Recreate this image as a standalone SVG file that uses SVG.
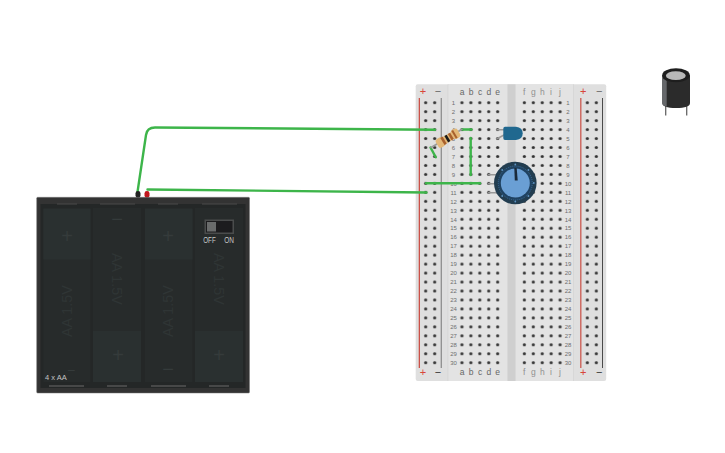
<svg xmlns="http://www.w3.org/2000/svg" width="725" height="453" viewBox="0 0 725 453">
<style>
.hd{fill:#333}
.num{font:6px "Liberation Sans",Arial,sans-serif;fill:#6e6e6e;text-anchor:middle}
.col{font:8.5px "Liberation Sans",Arial,sans-serif;fill:#666;text-anchor:middle}
.colf{font:8.5px "Liberation Sans",Arial,sans-serif;fill:#909090;text-anchor:middle}
.sign{font:11px "Liberation Sans",Arial,sans-serif;text-anchor:middle}
.w{fill:none;stroke:#3db54a;stroke-width:2.4;stroke-linecap:round;stroke-linejoin:round}
.cell{fill:#272b2b}
.pane{fill:#2a3030}
.aa{font:14.3px "Liberation Sans",Arial,sans-serif;fill:#2f3535;text-anchor:start}
.mark{font:20px "Liberation Sans",Arial,sans-serif;fill:#353b3b;text-anchor:middle}
.leg{fill:none;stroke:#999;stroke-width:1.6;stroke-linecap:round}
.sw{font:8.2px "Liberation Sans",Arial,sans-serif;fill:#c8c8c8;text-anchor:middle}
</style>
<defs>
<pattern id="holes" x="0" y="0" width="8.93" height="8.966" patternUnits="userSpaceOnUse" patternTransform="translate(457.5 98.2)">
<circle cx="4.46" cy="4.48" r="1.6" class="hd"/>
</pattern>
<pattern id="holesR" x="0" y="0" width="8.93" height="8.966" patternUnits="userSpaceOnUse" patternTransform="translate(519.9 98.2)">
<circle cx="4.46" cy="4.48" r="1.6" class="hd"/>
</pattern>
<pattern id="holesL" x="0" y="0" width="9" height="8.966" patternUnits="userSpaceOnUse" patternTransform="translate(421.2 98.2)">
<circle cx="4.5" cy="4.48" r="1.6" class="hd"/>
</pattern>
<pattern id="holesS" x="0" y="0" width="9" height="8.966" patternUnits="userSpaceOnUse" patternTransform="translate(582.8 98.2)">
<circle cx="4.5" cy="4.48" r="1.6" class="hd"/>
</pattern>
<g id="nums" class="num">
<text y="104.9">1</text><text y="113.9">2</text><text y="122.8">3</text><text y="131.8">4</text><text y="140.8">5</text><text y="149.7">6</text><text y="158.7">7</text><text y="167.7">8</text><text y="176.6">9</text><text y="185.6">10</text><text y="194.6">11</text><text y="203.5">12</text><text y="212.5">13</text><text y="221.5">14</text><text y="230.4">15</text><text y="239.4">16</text><text y="248.4">17</text><text y="257.3">18</text><text y="266.3">19</text><text y="275.3">20</text><text y="284.2">21</text><text y="293.2">22</text><text y="302.2">23</text><text y="311.1">24</text><text y="320.1">25</text><text y="329.1">26</text><text y="338">27</text><text y="347">28</text><text y="356">29</text><text y="364.9">30</text>
</g>
</defs>
<rect width="725" height="453" fill="#fff"/>

<g id="breadboard">
<rect x="415.700" y="84.300" width="190.500" height="296.700" rx="2" fill="#dfdfdf"/>
<rect x="448" y="84.300" width="59.500" height="296.700" fill="#e3e3e3"/>
<rect x="515.500" y="84.300" width="58" height="296.700" fill="#e3e3e3"/>
<rect x="507.500" y="84.300" width="8" height="296.700" fill="#cfcfcf"/>
<path d="M448 84.300V381M573.500 84.300V381" stroke="#d2d2d2" stroke-width="0.700"/>
<rect x="457.500" y="98.200" width="44.650" height="269" fill="url(#holes)"/>
<rect x="519.900" y="98.200" width="44.650" height="269" fill="url(#holesR)"/>
<rect x="421.200" y="98.200" width="18" height="269" fill="url(#holesL)"/>
<rect x="582.800" y="98.200" width="18" height="269" fill="url(#holesS)"/>
<path d="M419.300 98V368" stroke="#c8392f" stroke-width="1.100"/>
<path d="M441.300 98V368" stroke="#8e8e8e" stroke-width="1.300"/>
<path d="M580.800 98V368" stroke="#cc5a50" stroke-width="1.300"/>
<path d="M602.500 98V368" stroke="#4a4a4a" stroke-width="1"/>
<g class="sign">
<text x="423" y="95" fill="#d8453a">+</text><text x="438" y="95" fill="#666">−</text>
<text x="583.300" y="95" fill="#d8453a">+</text><text x="599.300" y="95" fill="#666">−</text>
<text x="423" y="376" fill="#d8453a">+</text><text x="438" y="376" fill="#333">−</text>
<text x="583.300" y="376" fill="#d8453a">+</text><text x="599.300" y="376" fill="#333">−</text>
</g>
<g class="col">
<text x="462" y="95">a</text><text x="471" y="95">b</text><text x="480" y="95">c</text><text x="488.800" y="95">d</text><text x="497.500" y="95">e</text>
<text x="462" y="375">a</text><text x="471" y="375">b</text><text x="480" y="375">c</text><text x="488.800" y="375">d</text><text x="497.500" y="375">e</text>
</g>
<g class="colf">
<text x="524.300" y="95">f</text><text x="533.300" y="95">g</text><text x="542.300" y="95">h</text><text x="551" y="95">i</text><text x="560" y="95">j</text>
<text x="524.300" y="375">f</text><text x="533.300" y="375">g</text><text x="542.300" y="375">h</text><text x="551" y="375">i</text><text x="560" y="375">j</text>
</g>
<use href="#nums" x="453.500"/>
<use href="#nums" x="568"/>
</g>

<g id="connectors">
<path class="w" d="M137.500 192L146 135Q147 127.500 155 127.500L435 129.700"/>
<path class="w" d="M147.500 189.500L426.500 192.500"/>
<path class="w" d="M430.500 147.500L435.800 157.300"/>
<path class="w" d="M462 129.500H471.500"/>
<path class="w" d="M470.700 138V175"/>
<path class="w" d="M426 183.300H480"/>
</g>

<g id="battery">
<rect x="135.500" y="191" width="5" height="7" rx="2.400" fill="#222"/>
<rect x="144.500" y="191" width="5" height="7" rx="2.400" fill="#c1171d"/>
<rect x="36.700" y="197.300" width="212.800" height="195.700" rx="1" fill="#333" stroke="#777" stroke-width="0.500"/>
<rect x="40.500" y="204" width="205" height="184" fill="#242727"/>
<rect class="cell" x="43.300" y="208" width="47.200" height="174"/>
<rect class="cell" x="93" y="208" width="48" height="174"/>
<rect class="cell" x="145" y="208" width="47.500" height="174"/>
<rect class="cell" x="195" y="208" width="48" height="174"/>
<rect class="pane" x="43.300" y="209" width="47.200" height="50.500"/>
<rect class="pane" x="145" y="209" width="47.500" height="50.500"/>
<rect class="pane" x="93" y="331" width="48" height="51"/>
<rect class="pane" x="195" y="331" width="48" height="51"/>
<path d="M57 204h20M100 204h35M158 204h20M202 204h35" fill="none" stroke="#4a4a4a" stroke-width="1"/>
<path d="M49 386h35M107 386h20M151 386h35M209 386h20" fill="none" stroke="#6a6a6a" stroke-width="1"/>
<text class="mark" x="67" y="243">+</text>
<text class="mark" x="168" y="243">+</text>
<text class="mark" x="118" y="362">+</text>
<text class="mark" x="219" y="362">+</text>
<text class="mark" x="117" y="226">−</text>
<text class="mark" x="71" y="374.700" style="font-size:14px">−</text>
<text class="mark" x="168" y="376">−</text>
<text class="aa" transform="translate(72 337) rotate(-90)">AA 1.5V</text>
<text class="aa" transform="translate(173 337) rotate(-90)">AA 1.5V</text>
<text class="aa" transform="translate(112 253) rotate(90)">AA 1.5V</text>
<text class="aa" transform="translate(214 253) rotate(90)">AA 1.5V</text>
<rect x="204.500" y="219.500" width="29.500" height="14.500" fill="#4a4c4c"/>
<rect x="206" y="221" width="26.500" height="11.500" fill="#1c1c1e"/>
<rect x="207" y="222" width="9" height="9.500" fill="#6a6c6c"/>
<text class="sw" x="209.500" y="243" textLength="12.500" lengthAdjust="spacingAndGlyphs">OFF</text>
<text class="sw" x="229" y="243" textLength="9.700" lengthAdjust="spacingAndGlyphs">ON</text>
<text x="45" y="379.500" style="font:7.500px 'Liberation Sans',Arial,sans-serif;fill:#c4c4c4">4 x AA</text>
</g>

<g id="resistor">
<path class="leg" d="M431 147.500L462 129.300"/>
<g transform="translate(448 138.200) rotate(-30.500)">
<path d="M-12.500 -2.500Q-12.500 -5 -9 -5Q-6 -5 -5 -3.700H5Q6 -5 9 -5Q12.500 -5 12.500 -2.500V2.500Q12.500 5 9 5Q6 5 5 3.700H-5Q-6 5 -9 5Q-12.500 5 -12.500 2.500Z" fill="#e3b878"/>
<rect x="-6.500" y="-4.200" width="2.600" height="8.400" fill="#a8602d"/>
<rect x="-2" y="-3.700" width="2.600" height="7.400" fill="#1a1a1a"/>
<rect x="2" y="-3.700" width="2.600" height="7.400" fill="#a8602d"/>
<rect x="6.500" y="-4.500" width="2" height="9" fill="#a8602d"/>
</g>
</g>

<g id="led">
<path class="leg" d="M497 129.700H504M497 138.700L504 135"/>
<path d="M505 126.700H516Q522.700 127.500 522.700 133.300Q522.700 139.200 516 140H505Q503.300 140 503.300 138V128.700Q503.300 126.700 505 126.700Z" fill="#20688f"/>
</g>

<g id="potentiometer">
<path class="leg" d="M488.500 174.700H497M488.500 183.700H497M488.500 192.700H497"/>
<circle cx="515.300" cy="183" r="21.300" fill="#223d50"/>
<circle cx="515.300" cy="183" r="17" fill="#1f4261" stroke="#3b6c96" stroke-width="1" stroke-dasharray="1 1"/>
<circle cx="515.300" cy="183" r="14.500" fill="#6a9fd4"/>
<path d="M514.300 168H516.700L517.700 180.500H514.800Z" fill="#1a2a3a"/>
<g fill="#5d93c4">
<circle cx="515.300" cy="164.500" r="0.900"/><circle cx="515.300" cy="201.500" r="0.900"/><circle cx="533.800" cy="183" r="0.900"/><circle cx="502.200" cy="170" r="0.900"/><circle cx="528.400" cy="170" r="0.900"/><circle cx="502.200" cy="196" r="0.900"/><circle cx="528.400" cy="196" r="0.900"/>
</g>
</g>

<g id="capacitor">
<path d="M665.700 105V115.500M686.700 105V115.500" stroke="#666" stroke-width="1.300" fill="none"/>
<path d="M662.300 75.300V103Q662.300 108 676 108Q690 108 690 103V75.300Z" fill="#2b2b2b"/>
<path d="M662.300 78V103Q662.300 105.500 666.700 106.800V81Z" fill="#66686b"/>
<ellipse cx="676" cy="75.300" rx="13.800" ry="7" fill="#1e1e1e"/>
<ellipse cx="675.800" cy="75.700" rx="9.900" ry="4.400" fill="#b8b8b8"/>
</g>
</svg>
